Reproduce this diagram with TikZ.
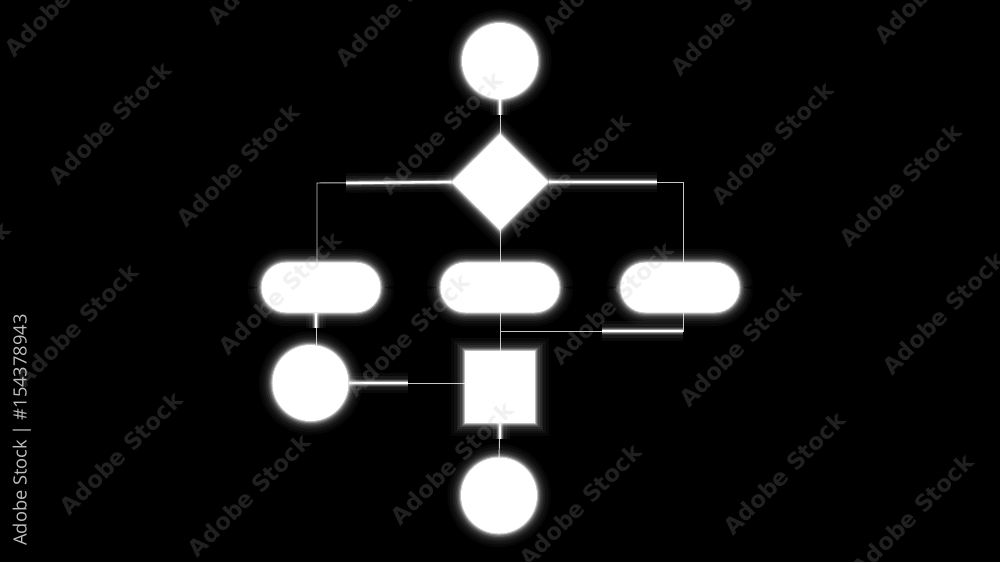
\documentclass[tikz,border=0pt]{standalone}
\usepackage{fontspec}
\setmainfont{DejaVu Sans}
\newfontfamily\wmfont{DejaVu Sans}
\newfontfamily\idfont{Open Sans}
\usetikzlibrary{shapes.geometric}
\pgfdeclarelayer{bg}
\pgfdeclarelayer{wires}
\pgfdeclarelayer{front}
\pgfsetlayers{bg,wires,main,front}
\definecolor{wmgray}{RGB}{180,180,180}
\definecolor{idgray}{RGB}{190,190,190}
\definecolor{wirecol}{RGB}{200,200,200}
\tikzset{
  glow/.style={
    preaction={draw=white,draw opacity=0.03,line width=16pt},
    preaction={draw=white,draw opacity=0.04,line width=13pt},
    preaction={draw=white,draw opacity=0.05,line width=10pt},
    preaction={draw=white,draw opacity=0.07,line width=8pt},
    preaction={draw=white,draw opacity=0.10,line width=6pt},
    preaction={draw=white,draw opacity=0.15,line width=4.5pt},
    preaction={draw=white,draw opacity=0.25,line width=3pt},
    preaction={draw=white,draw opacity=0.45,line width=1.8pt}},
  shp/.style={fill=white, draw=white, line width=0.6pt, glow, inner sep=0pt},
  circ/.style={shp, circle, minimum size=1.5cm},
  pill/.style={shp, rectangle, rounded corners=0.49cm, minimum width=2.36cm, minimum height=0.98cm},
  dia/.style={shp, diamond, minimum width=1.92cm, minimum height=1.9cm},
  sq/.style={shp, rectangle, minimum width=1.38cm, minimum height=1.4cm},
  wire/.style={draw=wirecol, line width=0.55pt},
  bright/.style={draw=white, line width=1.3pt,
    preaction={draw=white, draw opacity=0.04, line width=11pt},
    preaction={draw=white, draw opacity=0.06, line width=8pt},
    preaction={draw=white, draw opacity=0.1, line width=5pt},
    preaction={draw=white, draw opacity=0.2, line width=3pt},
    preaction={draw=white, draw opacity=0.4, line width=2pt}},
  wm/.style={text=wmgray, text opacity=0.18, font=\wmfont\bfseries\fontsize{13}{13}\selectfont, rotate=45, inner sep=0pt},
  idtext/.style={rotate=90, text=idgray, font=\idfont\fontsize{10.4}{10.4}\selectfont, inner sep=0pt}
}
\begin{document}
\begin{tikzpicture}[x=0.02cm,y=-0.02cm]
\begin{pgfonlayer}{bg}
\fill[black] (0,0) rectangle (1000,562);
\end{pgfonlayer}
\useasboundingbox (0,0) rectangle (1000,562);

% corner points and ends of the glowing segments
\coordinate (lx) at (317,183);
\coordinate (rx) at (683,182);
\coordinate (lb) at (316,312);
\coordinate (rj) at (683,331);
\coordinate (b1) at (500,115);
\coordinate (b2) at (346,183);
\coordinate (b3) at (657,182);
\coordinate (b4) at (316,328);
\coordinate (b5) at (602,331);
\coordinate (b6) at (408,383);
\coordinate (b7) at (500,439);

% shapes
\node[circ] (c1) at (500,61) {};
\node[dia] (d) at (500,182) {};
\node[pill] (p1) at (321,287.5) {};
\node[pill] (p2) at (500,287.5) {};
\node[pill] (p3) at (680,287.5) {};
\node[circ] (c2) at (310.5,383) {};
\node[sq] (s) at (500,387) {};
\node[circ] (c3) at (499,495.5) {};

\begin{pgfonlayer}{wires}
% thin wires
\draw[wire] (c1.south) -- (d.north);
\draw[wire] (d.west) -- (lx) -- (lx |- p1.north);
\draw[wire] (d.east) -- (rx) -- (rx |- p3.north);
\draw[wire] (d.south) -- (p2.north);
\draw[wire] (lb |- p1.south) -- (lb |- c2.north);
\draw[wire] (p2.south) -- (s.north);
\draw[wire] (rj |- p3.south) -- (rj) -- (rj -| p2.south);
\draw[wire] (c2.east) -- (c2.east -| s.west);
\draw[wire] (s.south) -- (c3.north);
% glowing segments
\draw[bright] (c1.south) -- (b1);
\draw[bright] (b2) -- (d.west);
\draw[bright] (d.east) -- (b3);
\draw[bright] (lb |- p1.south) -- (b4);
\draw[bright] (b5) -- (rj);
\draw[bright] (c2.east) -- (b6);
\draw[bright] (s.south) -- (b7);
\end{pgfonlayer}

% stock watermark
\begin{pgfonlayer}{front}
\node[idtext] (id) at (22,430) {Adobe Stock | \#154378943};
\foreach \x/\y [count=\i] in {-62/-47,269/-37,603/-28,935/-18,66/-5,397/5,731/14,
  110/123,441/133,772/143,238/165,569/175,900/185,
  -51/283,280/293,612/303,943/313,77/325,408/335,740/345,
  121/453,452/463,784/473,249/495,580/505,912/515}
  \node[wm] (wm\i) at (\x,\y) {Adobe Stock};
\end{pgfonlayer}
\end{tikzpicture}
\end{document}
